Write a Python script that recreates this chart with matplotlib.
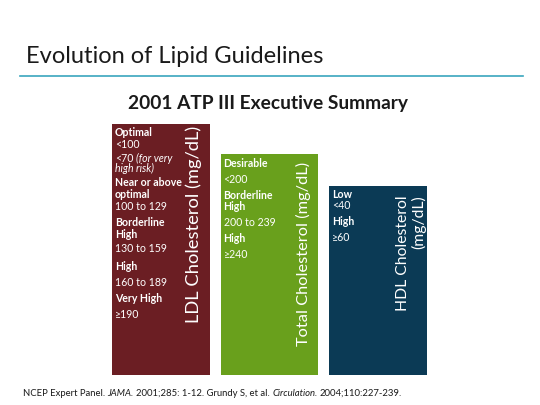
import matplotlib
matplotlib.use("Agg")
import matplotlib.pyplot as plt
from matplotlib.transforms import IdentityTransform
from matplotlib.lines import Line2D

FONT = ["Lato", "DejaVu Sans"]
plt.rcParams["font.family"] = FONT

# ---------------- data ----------------
title = "Evolution of Lipid Guidelines"
subtitle = "2001 ATP III Executive Summary"
categories = ["LDL Cholesterol (mg/dL)", "Total Cholesterol (mg/dL)", "HDL Cholesterol\n(mg/dL)"]
bar_heights = [100, 88, 75.3]          # relative bar heights (LDL tallest)
bar_colors = ["#6b1e23", "#69a01c", "#0b3a55"]

ldl_lines = [
    [("Optimal", "bold")],
    [("<100", "normal")],
    [("<70", "normal"), ("(for very", "italic")],
    [("high risk)", "italic")],
    [("Near or above", "bold")],
    [("optimal", "bold")],
    [("100 to 129", "normal")],
    [("Borderline", "bold")],
    [("High", "bold")],
    [("130 to 159", "normal")],
    [("High", "bold")],
    [("160 to 189", "normal")],
    [("Very High", "bold")],
    [("≥190", "normal")],
]
total_lines = [
    [("Desirable", "bold")],
    [("<200", "normal")],
    [("Borderline", "bold")],
    [("High", "bold")],
    [("200 to 239", "normal")],
    [("High", "bold")],
    [("≥240", "normal")],
]
hdl_lines = [
    [("Low", "bold")],
    [("<40", "normal")],
    [("High", "bold")],
    [("≥60", "normal")],
]
footnote = [("NCEP Expert Panel.", "normal"), ("JAMA.", "italic"),
            ("2001;285: 1-12. Grundy S, et al.", "normal"), ("Circulation.", "italic"),
            ("2004;110:227-239.", "normal")]

# ---------------- layout (pixels) ----------------
W, H = 540, 405
line_offsets = [
    [9, 20, 34, 44, 59, 70, 83, 99, 110, 125, 143, 158, 174, 190],
    [9, 25, 41, 52, 68, 84, 100],
    [9, 20, 36, 52],
]
label_x = [194, 303, 411]
label_top = [126, 162, 195]
label_len = [197, 183, 115]

fig = plt.figure(figsize=(W / 100, H / 100), dpi=100)
fig.patch.set_facecolor("white")
renderer = fig.canvas.get_renderer()
PX = IdentityTransform()


def fit(t, target, axis="w"):
    bb = t.get_window_extent(renderer)
    cur = bb.width if axis == "w" else bb.height
    t.set_fontsize(t.get_fontsize() * target / cur)


def width_of(s, size, weight="normal", style="normal"):
    t = fig.text(0, 0, s, fontsize=size, fontweight=weight, fontstyle=style, transform=PX)
    w = t.get_window_extent(renderer).width
    t.remove()
    return w


def draw_segments(x, y, segs, size, color, va="center"):
    sp = width_of("x x", size) - width_of("xx", size)
    for s, st in segs:
        weight = "bold" if st == "bold" else "normal"
        style = "italic" if st == "italic" else "normal"
        t = fig.text(x, y, s, fontsize=size, fontweight=weight, fontstyle=style,
                     color=color, ha="left", va=va, transform=PX)
        x += t.get_window_extent(renderer).width + sp


# title
t = fig.text(26, H - 63, title, fontsize=16, color="#1a1a1a", ha="left", va="baseline", transform=PX)
fit(t, 299)
fig.add_artist(Line2D([20, 523], [H - 76, H - 76], color="#3aa6bd", lw=1.2, transform=PX))

# subtitle
t = fig.text(268, H - 109, subtitle, fontsize=13, fontweight="bold", color="#1a1a1a",
             ha="center", va="baseline", transform=PX)
fit(t, 280)

# bars
ax = fig.add_axes([106.75 / W, 30 / H, 325.5 / W, 251 / H])
bw = 0.903
ax.bar(range(len(categories)), bar_heights, width=bw, color=bar_colors)
ax.set_xlim(-0.5, 2.5)
ax.set_ylim(0, 100)
ax.axis("off")

# inner text size: fit "Near or above" bold to 67 px
ref = width_of("Near or above", 10, "bold")
inner_size = 10 * 67 / ref

for i, (lines, offs) in enumerate(zip([ldl_lines, total_lines, hdl_lines], line_offsets)):
    x0, ytop = ax.transData.transform((i - bw / 2, bar_heights[i]))
    for segs, off in zip(lines, offs):
        draw_segments(x0 + 3, ytop - off, segs, inner_size, "white")

    lab = fig.text(label_x[i], H - label_top[i], categories[i], rotation=90, color="white",
                   fontsize=12, ha="center", va="top", multialignment="right",
                   linespacing=1.1, transform=PX)
    fit(lab, label_len[i], axis="h")

# footnote
fsize = 10
tmp = fig.text(0, 0, "NCEP Expert Panel. JAMA. 2001;285: 1-12. Grundy S, et al. Circulation. 2004;110:227-239.",
               fontsize=fsize, transform=PX)
fsize = fsize * 382 / tmp.get_window_extent(renderer).width
tmp.remove()
draw_segments(23, H - 396, footnote, fsize, "#1a1a1a", va="baseline")

fig.savefig("out.png", dpi=100, facecolor="white")
